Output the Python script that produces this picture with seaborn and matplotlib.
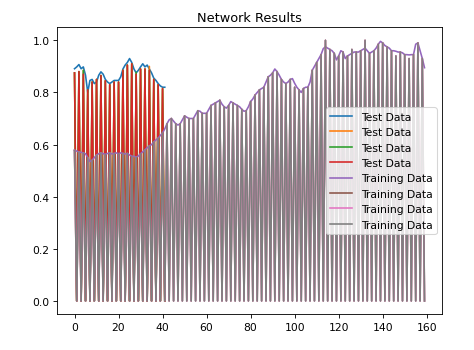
### IMPORTS
import numpy as np
import matplotlib
matplotlib.use("Agg")
import matplotlib.pyplot as plt
import seaborn as sns

### DATA
# test set: 42 steps, the upper line plus three columns that jump between a value and 0
test_line = [0.891, 0.898, 0.907, 0.891, 0.898, 0.866, 0.800, 0.846, 0.850, 0.834,
             0.840, 0.866, 0.879, 0.870, 0.850, 0.840, 0.834, 0.840, 0.846, 0.846,
             0.846, 0.860, 0.890, 0.905, 0.915, 0.930, 0.915, 0.890, 0.875, 0.885,
             0.898, 0.910, 0.898, 0.905, 0.890, 0.875, 0.855, 0.846, 0.834, 0.825,
             0.820, 0.820]
# values at the even steps (odd steps are 0)
test_red_tops = [0.875, 0.880, 0.870, 0.810, 0.840, 0.850, 0.865, 0.845, 0.830, 0.840,
                 0.840, 0.885, 0.905, 0.910, 0.870, 0.890, 0.890, 0.885, 0.850, 0.830,
                 0.815]
test_orange_tops = [0.875, 0.880, 0.885, 0.810, 0.840, 0.850, 0.865, 0.845, 0.830, 0.840,
                    0.840, 0.885, 0.905, 0.910, 0.870, 0.890, 0.890, 0.900, 0.850, 0.830,
                    0.815]
test_green_tops = [0.875, 0.880, 0.885, 0.810, 0.840, 0.850, 0.865, 0.845, 0.830, 0.840,
                   0.840, 0.885, 0.905, 0.910, 0.878, 0.890, 0.890, 0.885, 0.850, 0.830,
                   0.815]

# training set: 160 steps
train_line = [0.578, 0.575, 0.572, 0.570, 0.568, 0.565, 0.550, 0.535, 0.540, 0.550,
              0.560, 0.565, 0.568, 0.565, 0.562, 0.566, 0.568, 0.564, 0.566, 0.568,
              0.565, 0.568, 0.566, 0.564, 0.566, 0.560, 0.555, 0.555, 0.552, 0.556,
              0.565, 0.572, 0.580, 0.588, 0.595, 0.600, 0.610, 0.618, 0.625, 0.635,
              0.645, 0.660, 0.680, 0.695, 0.700, 0.690, 0.680, 0.675, 0.680, 0.695,
              0.710, 0.705, 0.700, 0.700, 0.700, 0.715, 0.730, 0.728, 0.720, 0.720,
              0.720, 0.735, 0.750, 0.755, 0.760, 0.765, 0.770, 0.755, 0.745, 0.740,
              0.750, 0.765, 0.760, 0.755, 0.750, 0.745, 0.735, 0.728, 0.730, 0.745,
              0.765, 0.775, 0.790, 0.800, 0.810, 0.815, 0.820, 0.840, 0.860, 0.866,
              0.875, 0.890, 0.880, 0.866, 0.850, 0.840, 0.834, 0.840, 0.850, 0.853,
              0.835, 0.820, 0.810, 0.800, 0.815, 0.820, 0.820, 0.840, 0.885, 0.900,
              0.915, 0.930, 0.945, 0.968, 0.975, 0.970, 0.965, 0.960, 0.950, 0.925,
              0.940, 0.960, 0.955, 0.930, 0.940, 0.945, 0.950, 0.955, 0.955, 0.955,
              0.960, 0.965, 0.970, 0.960, 0.950, 0.955, 0.960, 0.970, 0.985, 0.996,
              0.990, 0.980, 0.975, 0.970, 0.960, 0.960, 0.958, 0.955, 0.955, 0.952,
              0.945, 0.945, 0.944, 0.945, 0.945, 0.985, 0.990, 0.960, 0.930, 0.895]
# values at the even steps (odd steps are 0)
train_gray_tops = [0.578, 0.572, 0.568, 0.550, 0.540, 0.560, 0.568, 0.562, 0.568, 0.566,
                   0.565, 0.566, 0.566, 0.555, 0.552, 0.565, 0.580, 0.595, 0.610, 0.625,
                   0.645, 0.680, 0.700, 0.680, 0.680, 0.710, 0.700, 0.700, 0.730, 0.720,
                   0.720, 0.750, 0.760, 0.770, 0.745, 0.750, 0.760, 0.750, 0.735, 0.730,
                   0.765, 0.790, 0.810, 0.820, 0.860, 0.875, 0.880, 0.850, 0.834, 0.850,
                   0.820, 0.810, 0.815, 0.820, 0.885, 0.915, 0.945, 1.000, 0.965, 0.950,
                   0.940, 0.955, 0.940, 0.965, 0.955, 0.960, 1.000, 0.950, 0.960, 0.985,
                   0.990, 0.975, 0.960, 0.940, 0.955, 0.945, 0.930, 0.945, 0.990, 0.930]


def with_zeros(tops, n):
    s = np.zeros(n)
    s[0::2] = tops
    return s


test_x = np.arange(len(test_line))
train_x = np.arange(len(train_line))

test_series = [np.array(test_line),
               with_zeros(test_orange_tops, len(test_x)),
               with_zeros(test_green_tops, len(test_x)),
               with_zeros(test_red_tops, len(test_x))]
train_series = [np.array(train_line),
                with_zeros(train_gray_tops, len(train_x)),
                with_zeros(train_gray_tops, len(train_x)),
                with_zeros(train_gray_tops, len(train_x))]

### PLOT
DPI = 77.6
colors = sns.color_palette("tab10")
fig, ax = plt.subplots(figsize=(474 / DPI, 351 / DPI), dpi=DPI)
fig.subplots_adjust(left=0.1203, right=0.9325, bottom=0.1026, top=0.9194)

for i, s in enumerate(test_series):
    sns.lineplot(x=test_x, y=s, ax=ax, color=colors[i], label="Test Data",
                 linewidth=1.5, estimator=None, sort=False)
for i, s in enumerate(train_series):
    sns.lineplot(x=train_x, y=s, ax=ax, color=colors[4 + i], label="Training Data",
                 linewidth=1.5, estimator=None, sort=False)

ax.set_xticks(range(0, 161, 20))
ax.set_yticks(np.arange(0, 1.01, 0.2))
ax.set_title("Network Results")
ax.legend(loc="center right")

plt.savefig("out.png", dpi=DPI)
